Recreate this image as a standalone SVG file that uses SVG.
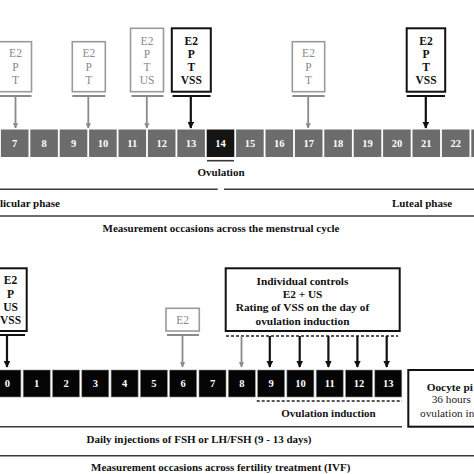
<svg xmlns="http://www.w3.org/2000/svg" width="474" height="474" viewBox="0 0 474 474">
<style>
text{font-family:"Liberation Serif","Times New Roman",serif;text-anchor:middle}
.num{fill:#fff;font-weight:bold;font-size:10.5px}
.gbox{fill:#fff;stroke:#9a9a9a;stroke-width:1.6}
.bbox{fill:#fff;stroke:#111;stroke-width:2}
.gt{fill:#8a8a8a;font-size:11.5px}
.bt{fill:#111;font-size:11.5px;font-weight:bold}
.ct{fill:#111;font-size:11.3px;font-weight:bold}
.ot{fill:#222;font-size:11.3px}
.lbl{fill:#111;font-size:11px;font-weight:bold}
.cellg{fill:#6c6c6c}
.cellk{fill:#141414}
.cellb{fill:#050505;stroke:#8a8a8a;stroke-width:0.6}
.rule{stroke:#3a3a3a;stroke-width:1.6;fill:none}
.garr{stroke:#8a8a8a;stroke-width:1.8;fill:none;marker-end:url(#ag)}
.karr{stroke:#111;stroke-width:2.2;fill:none;marker-end:url(#ak)}
.gbar{stroke:#8a8a8a;stroke-width:2}
.kbar{stroke:#111;stroke-width:2}
.dash{stroke:#222;stroke-width:1.6;stroke-dasharray:3,2;fill:none}
</style>
<defs>
<marker id="ag" viewBox="0 0 10 10" refX="9" refY="5" markerWidth="3" markerHeight="3" orient="auto" markerUnits="strokeWidth"><path d="M0,0 L10,5 L0,10 z" fill="#8a8a8a"/></marker>
<marker id="ak" viewBox="0 0 10 10" refX="9" refY="5" markerWidth="3" markerHeight="3" orient="auto" markerUnits="strokeWidth"><path d="M0,0 L10,5 L0,10 z" fill="#111"/></marker>
</defs>
<rect width="474" height="474" fill="#fff"/>

<!-- top measurement boxes -->
<g id="m-day7"><rect class="gbox" x="-3" y="41.7" width="34.5" height="50"/><text class="gt" x="15.5" y="57">E2</text><text class="gt" x="15.5" y="71">P</text><text class="gt" x="15.5" y="84">T</text></g>
<g id="m-day9"><rect class="gbox" x="72.3" y="41.7" width="33" height="50"/><text class="gt" x="88.8" y="57">E2</text><text class="gt" x="88.8" y="71">P</text><text class="gt" x="88.8" y="84">T</text></g>
<g id="m-day11"><rect class="gbox" x="130.5" y="28.3" width="33" height="63.4"/><text class="gt" x="147" y="45">E2</text><text class="gt" x="147" y="58">P</text><text class="gt" x="147" y="71">T</text><text class="gt" x="147" y="84">US</text></g>
<g id="m-day13"><rect class="bbox" x="171.8" y="28.3" width="39" height="63.4"/><text class="bt" x="191.3" y="45">E2</text><text class="bt" x="191.3" y="58">P</text><text class="bt" x="191.3" y="71">T</text><text class="bt" x="191.3" y="84">VSS</text></g>
<g id="m-day17"><rect class="gbox" x="292.3" y="41.7" width="32.4" height="50"/><text class="gt" x="308.5" y="57">E2</text><text class="gt" x="308.5" y="71">P</text><text class="gt" x="308.5" y="84">T</text></g>
<g id="m-day21"><rect class="bbox" x="406.7" y="28.3" width="38.5" height="63.4"/><text class="bt" x="426" y="45">E2</text><text class="bt" x="426" y="58">P</text><text class="bt" x="426" y="71">T</text><text class="bt" x="426" y="84">VSS</text></g>

<!-- top cycle days -->
<g id="cycle-days">
<g id="d7"><rect class="cellg" x="0.9" y="129.5" width="27.6" height="27.5"/><text class="num" x="14.7" y="147.3">7</text></g>
<g id="d8"><rect class="cellg" x="30.3" y="129.5" width="27.6" height="27.5"/><text class="num" x="44.1" y="147.3">8</text></g>
<g id="d9"><rect class="cellg" x="59.7" y="129.5" width="27.6" height="27.5"/><text class="num" x="73.5" y="147.3">9</text></g>
<g id="d10"><rect class="cellg" x="89.1" y="129.5" width="27.6" height="27.5"/><text class="num" x="102.9" y="147.3">10</text></g>
<g id="d11"><rect class="cellg" x="118.5" y="129.5" width="27.6" height="27.5"/><text class="num" x="132.3" y="147.3">11</text></g>
<g id="d12"><rect class="cellg" x="147.9" y="129.5" width="27.6" height="27.5"/><text class="num" x="161.7" y="147.3">12</text></g>
<g id="d13"><rect class="cellg" x="177.3" y="129.5" width="27.6" height="27.5"/><text class="num" x="191.1" y="147.3">13</text></g>
<g id="d14"><rect class="cellk" x="206.7" y="129.5" width="27.6" height="27.5"/><text class="num" x="220.5" y="147.3">14</text></g>
<g id="d15"><rect class="cellg" x="236.1" y="129.5" width="27.6" height="27.5"/><text class="num" x="249.9" y="147.3">15</text></g>
<g id="d16"><rect class="cellg" x="265.5" y="129.5" width="27.6" height="27.5"/><text class="num" x="279.3" y="147.3">16</text></g>
<g id="d17"><rect class="cellg" x="294.9" y="129.5" width="27.6" height="27.5"/><text class="num" x="308.7" y="147.3">17</text></g>
<g id="d18"><rect class="cellg" x="324.3" y="129.5" width="27.6" height="27.5"/><text class="num" x="338.1" y="147.3">18</text></g>
<g id="d19"><rect class="cellg" x="353.7" y="129.5" width="27.6" height="27.5"/><text class="num" x="367.5" y="147.3">19</text></g>
<g id="d20"><rect class="cellg" x="383.1" y="129.5" width="27.6" height="27.5"/><text class="num" x="396.9" y="147.3">20</text></g>
<g id="d21"><rect class="cellg" x="412.5" y="129.5" width="27.6" height="27.5"/><text class="num" x="426.3" y="147.3">21</text></g>
<g id="d22"><rect class="cellg" x="441.9" y="129.5" width="27.6" height="27.5"/><text class="num" x="455.7" y="147.3">22</text></g>
<g id="d23"><rect class="cellg" x="471.3" y="129.5" width="27.6" height="27.5"/></g>
</g>

<g id="ovulation"><line class="rule" x1="207" y1="160.7" x2="234" y2="160.7" stroke="#555"/><text class="lbl" x="221" y="176">Ovulation</text></g>
<g id="follicular"><line class="rule" x1="0" y1="189.3" x2="217.7" y2="189.3"/><text class="lbl" x="0" y="206.5" style="text-anchor:start">licular phase</text></g>
<g id="luteal"><line class="rule" x1="224" y1="189.3" x2="474" y2="189.3"/><text class="lbl" x="422" y="206.5">Luteal phase</text></g>
<g id="cycle-title"><line class="rule" x1="0" y1="216" x2="474" y2="216"/><text class="lbl" x="221" y="232">Measurement occasions across the menstrual cycle</text></g>

<!-- bottom measurement boxes -->
<g id="m-ivf0"><rect class="bbox" x="-14" y="268.3" width="40.7" height="62.7"/><text class="bt" x="10.5" y="284">E2</text><text class="bt" x="10.5" y="298">P</text><text class="bt" x="10.5" y="311">US</text><text class="bt" x="10.5" y="324">VSS</text></g>
<g id="m-ivf6"><rect class="gbox" x="166" y="308.3" width="33.3" height="22.7"/><text class="gt" x="182.6" y="324">E2</text></g>
<g id="m-individual"><rect class="bbox" x="225.7" y="268.3" width="174" height="62.7"/><text class="ct" x="302.5" y="284.5">Individual controls</text><text class="ct" x="302.5" y="298">E2 + US</text><text class="ct" x="302.5" y="311">Rating of VSS on the day of</text><text class="ct" x="302.5" y="324.5">ovulation induction</text></g>

<!-- bottom treatment days -->
<g id="ivf-days">
<g id="t0"><rect class="cellb" x="-6.1" y="370" width="27" height="27"/><text class="num" x="7.4" y="387.3">0</text></g>
<g id="t1"><rect class="cellb" x="23.2" y="370" width="27" height="27"/><text class="num" x="36.7" y="387.3">1</text></g>
<g id="t2"><rect class="cellb" x="52.5" y="370" width="27" height="27"/><text class="num" x="66" y="387.3">2</text></g>
<g id="t3"><rect class="cellb" x="81.8" y="370" width="27" height="27"/><text class="num" x="95.3" y="387.3">3</text></g>
<g id="t4"><rect class="cellb" x="111.1" y="370" width="27" height="27"/><text class="num" x="124.6" y="387.3">4</text></g>
<g id="t5"><rect class="cellb" x="140.4" y="370" width="27" height="27"/><text class="num" x="153.9" y="387.3">5</text></g>
<g id="t6"><rect class="cellb" x="169.7" y="370" width="27" height="27"/><text class="num" x="183.2" y="387.3">6</text></g>
<g id="t7"><rect class="cellb" x="199" y="370" width="27" height="27"/><text class="num" x="212.5" y="387.3">7</text></g>
<g id="t8"><rect class="cellb" x="228.3" y="370" width="27" height="27"/><text class="num" x="241.8" y="387.3">8</text></g>
<g id="t9"><rect class="cellb" x="257.6" y="370" width="27" height="27"/><text class="num" x="271.1" y="387.3">9</text></g>
<g id="t10"><rect class="cellb" x="286.9" y="370" width="27" height="27"/><text class="num" x="300.4" y="387.3">10</text></g>
<g id="t11"><rect class="cellb" x="316.2" y="370" width="27" height="27"/><text class="num" x="329.7" y="387.3">11</text></g>
<g id="t12"><rect class="cellb" x="345.5" y="370" width="27" height="27"/><text class="num" x="359" y="387.3">12</text></g>
<g id="t13"><rect class="cellb" x="374.8" y="370" width="27" height="27"/><text class="num" x="388.3" y="387.3">13</text></g>
</g>

<g id="oocyte"><rect class="bbox" x="408.3" y="370" width="80" height="56.7" stroke-width="1.5"/><text class="ct" x="426.7" y="390.5" style="text-anchor:start">Oocyte pi</text><text class="ot" x="431.7" y="402.5" style="text-anchor:start">36 hours</text><text class="ot" x="420" y="416.5" style="text-anchor:start">ovulation in</text></g>
<g id="ovulation-induction"><line class="dash" x1="256.7" y1="401" x2="402" y2="401"/><text class="lbl" x="328.5" y="416.5">Ovulation induction</text></g>
<g id="injections"><line class="rule" x1="0" y1="426.7" x2="402" y2="426.7"/><text class="lbl" x="199" y="443">Daily injections of FSH or LH/FSH (9 - 13 days)</text></g>
<g id="ivf-title"><line class="rule" x1="0" y1="455.7" x2="474" y2="455.7"/><text class="lbl" x="220.7" y="471">Measurement occasions across fertility treatment (IVF)</text></g>

<!-- connectors -->
<g id="connectors">
<line class="gbar" x1="-3" y1="96" x2="31.5" y2="96"/>
<line class="gbar" x1="72.3" y1="96" x2="105.3" y2="96"/>
<line class="gbar" x1="131.5" y1="96" x2="163.5" y2="96"/>
<line class="kbar" x1="172.5" y1="96" x2="210.5" y2="96"/>
<line class="gbar" x1="292.3" y1="96" x2="324.7" y2="96"/>
<line class="kbar" x1="406.7" y1="96" x2="445" y2="96"/>
<path class="garr" d="M15.5,96 V128"/>
<path class="garr" d="M88.3,96 V128"/>
<path class="garr" d="M146.8,96 V128"/>
<path class="karr" d="M190.8,96 V128"/>
<path class="garr" d="M308.2,96 V128"/>
<path class="karr" d="M425.8,96 V128"/>
<line class="kbar" x1="0" y1="335" x2="25" y2="335"/>
<line class="gbar" x1="167" y1="335" x2="199" y2="335"/>
<line class="dash" x1="226" y1="336" x2="398" y2="336"/>
<path class="karr" d="M7,335 V367"/>
<path class="garr" d="M182.5,335 V367"/>
<path class="garr" d="M241.5,336 V367"/>
<path class="karr" d="M269.8,336 V367"/>
<path class="karr" d="M299.7,336 V367"/>
<path class="karr" d="M328.4,336 V367"/>
<path class="karr" d="M357.4,336 V367"/>
<path class="karr" d="M386.7,336 V367"/>
</g>
</svg>
